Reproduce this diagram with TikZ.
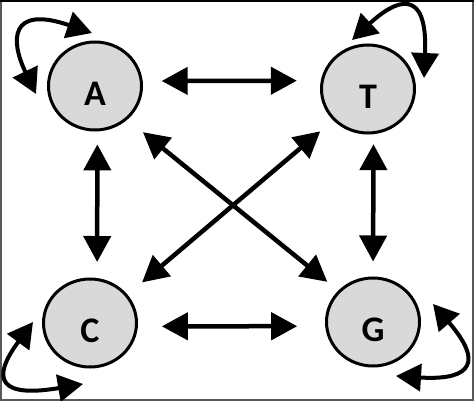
\documentclass[tikz,border=0pt]{standalone}
\usepackage{fontspec}
\setmainfont{Carlito}
\usetikzlibrary{calc,arrows.meta,shapes.geometric}
\definecolor{basegray}{RGB}{217,217,217}

\begin{document}
\begin{tikzpicture}[x=1pt,y=-1pt,
    base/.style={draw,ellipse,line width=3pt,fill=basegray,
      minimum width=93pt,minimum height=88pt,inner sep=0pt,
      font=\bfseries\fontsize{36}{36}\selectfont,text height=39pt,text depth=0pt},
    pair/.style={{Triangle[length=26pt,width=27pt]}-{Triangle[length=26pt,width=27pt]},line width=4.5pt},
    selfloop/.style={{Triangle[length=25pt,width=27pt]}-{Triangle[length=25pt,width=27pt]},line width=4pt}]
    \useasboundingbox (0,0) rectangle (474,401);
    \draw[gray!70!black,line width=2pt] (1,1) rectangle (473,400);
    \draw[black,line width=2.5pt] (0,1.2) -- (474,1.2);

    % the four bases
    \node[base] (A) at (95,86) {A};
    \node[base] (T) at (368,89) {T};
    \node[base] (C) at (90,323) {C};
    \node[base] (G) at (373,322) {G};

    \draw[pair,shorten <=19pt,shorten >=24pt] (A.6) -- (T.170);
    \draw[pair,shorten <=24pt,shorten >=28pt] (C.-4) -- (G.185);
    \draw[pair,shorten <=13pt,shorten >=16pt] (A.-87) -- (C.81);
    \draw[pair,shorten <=10pt,shorten >=15pt] (T.-83) -- (G.90);
    \draw[pair,shorten <=20pt,shorten >=14pt] (A.-46) -- (G.138);
    \draw[pair,shorten <=17pt,shorten >=19pt] (T.-138) -- (C.37);

    % self loops
    \coordinate (A-in) at (92,33);
    \coordinate (A-out) at (36,94);
    \coordinate (T-in) at (352,40);
    \coordinate (T-out) at (424,78);
    \coordinate (G-in) at (433,304);
    \coordinate (G-out) at (396,376);
    \coordinate (C-in) at (33,322);
    \coordinate (C-out) at (83,384);
    \draw[selfloop] (A-out) .. controls (10,40) and (10,5) .. (A-in);
    \draw[selfloop] (T-in) .. controls (395,0) and (428,-15) .. (T-out);
    \draw[selfloop] (G-out) .. controls (460,380) and (490,370) .. (G-in);
    \draw[selfloop] (C-in) .. controls (-10,380) and (0,398) .. (C-out);
\end{tikzpicture}
\end{document}
